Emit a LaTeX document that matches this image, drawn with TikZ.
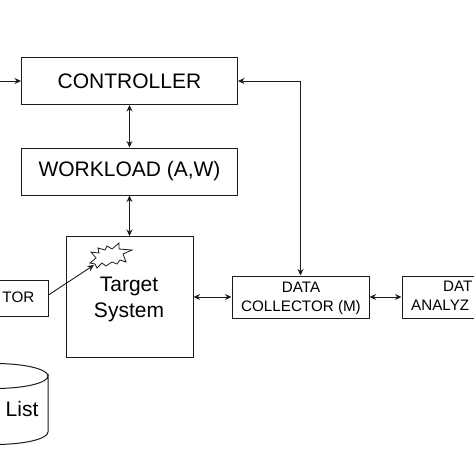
\documentclass[tikz,border=0pt]{standalone}
\usepackage{fontspec}
\setmainfont{Liberation Sans}
\usetikzlibrary{arrows.meta}
\definecolor{ink}{HTML}{1c1c1c}
\tikzset{
 x=1pt,y=-1pt,
 boxed/.style={draw=ink,line width=1pt,fill=white,inner sep=0pt},
 big/.style={font=\fontsize{21}{26}\selectfont,text=black,align=center},
 small/.style={font=\fontsize{15.2}{19}\selectfont,text=black,align=center},
 link/.style={draw=ink,line width=0.9pt,{Stealth[length=6.5pt,width=6pt]}-{Stealth[length=6.5pt,width=6pt]}},
 oneway/.style={draw=ink,line width=0.9pt,-{Stealth[length=6.5pt,width=6pt]}}
}
\begin{document}
\begin{tikzpicture}
\useasboundingbox (0,0) rectangle (474,474);
\clip (0,0) rectangle (474,474);
\node[boxed,big,minimum width=216pt,minimum height=47pt] (ctrl) at (129.5,81) {CONTROLLER};
\node[boxed,big,minimum width=216pt,minimum height=47pt] (work) at (129.5,171.5) {\raisebox{-1.5pt}{WORKLOAD (A,W)}};
\node[boxed,minimum width=127pt,minimum height=121pt] (target) at (129.5,297) {};
\node[big,inner sep=0pt] (targetlabel) at (129,299) {Target\\System};
\node[boxed,minimum width=137pt,minimum height=42pt] (coll) at (300.5,297) {};
\node[small,inner sep=0pt] (colllabel) at (301,298.5) {DATA\\COLLECTOR (M)};
\node[boxed,minimum width=137pt,minimum height=42pt] (anal) at (470.5,297) {};
\node[small,inner sep=0pt,anchor=north west] (anallabel1) at (443,280.5) {DAT};
\node[small,inner sep=0pt,anchor=north west] (anallabel2) at (411,299.5) {ANALYZ};
\node[boxed,minimum width=100pt,minimum height=36pt] (inj) at (-2,298) {};
\node[small,inner sep=0pt,anchor=east] (injlabel) at (34.5,297) {TOR};
% cylinder
\draw[ink,line width=1pt,fill=white] (48,376) arc[start angle=0,end angle=-180,x radius=53,y radius=-12.5] -- (-58,432) arc[start angle=180,end angle=360,x radius=53,y radius=-12.5] -- cycle;
\draw[ink,line width=1pt] (48,376) arc[start angle=0,end angle=180,x radius=53,y radius=-12.5];
\node[big,inner sep=0pt,anchor=west] (list) at (5.5,409) {List};
% burst
\draw[ink,line width=0.8pt,fill=white] (90,263) -- (96,258) -- (91,252) -- (99,253) -- (98,248) -- (105,250) -- (107,246) -- (112,249) -- (119,243) -- (119,249) -- (132,250) -- (123,254) -- (126,262) -- (120,260) -- (117,264) -- (112,262) -- (106,266) -- (102,263) -- (97,268) -- (95,264) -- cycle;
\coordinate (burst) at (94,265);
\draw[link] (ctrl) -- (work);
\draw[link] (work) -- (target);
\draw[link] (ctrl.east) -| (coll.north);
\draw[link] (target.east) -- (coll.west);
\draw[link] (coll.east) -- (anal.west);
\coordinate (feed) at (0,81);
\draw[oneway] (feed) -- (ctrl.west);
\draw[oneway] (inj.east) ++(0,-3) coordinate (injout) -- (burst);
\end{tikzpicture}
\end{document}
